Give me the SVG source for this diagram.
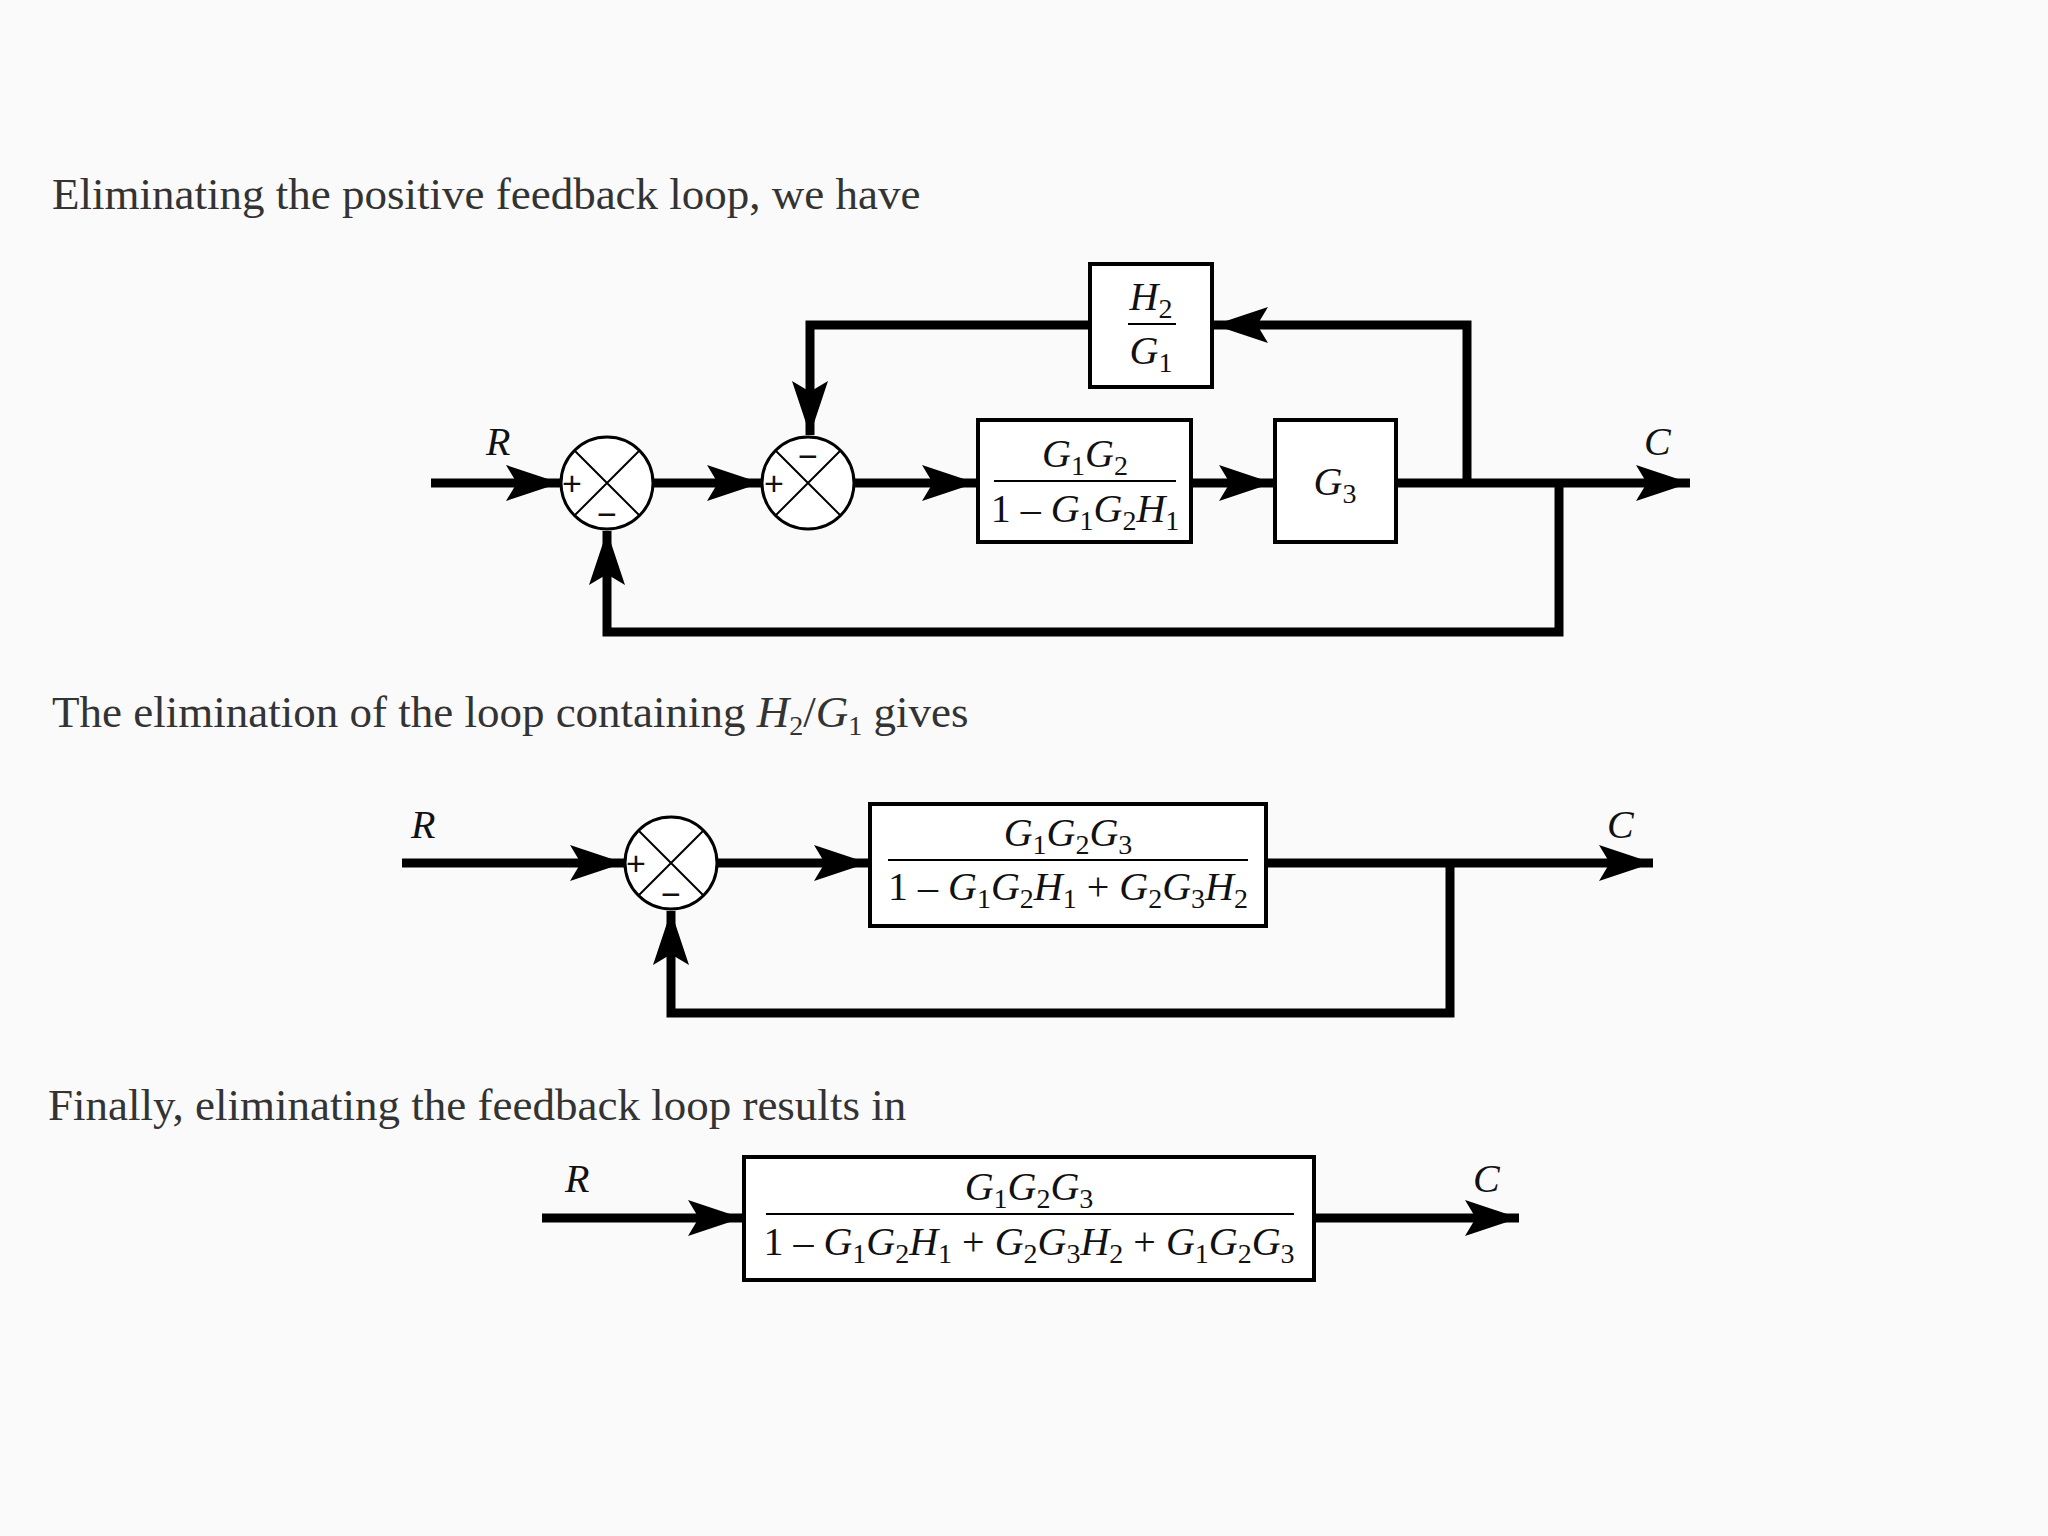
<svg xmlns="http://www.w3.org/2000/svg" width="2048" height="1536" viewBox="0 0 2048 1536">
<style>
.t{font-family:"Liberation Serif",serif;font-size:45px;fill:#333}
.m{font-family:"Liberation Serif",serif;font-style:italic;font-size:40px;fill:#111}
.s{font-size:28px;font-style:normal}
.n{font-style:normal}
.pm{font-family:"Liberation Sans",sans-serif;font-size:34px;fill:#111}
.w{stroke:#000;stroke-width:9;fill:none}
.b{fill:#fff;stroke:#000;stroke-width:4}
.c{fill:#fff;stroke:#000;stroke-width:3}
.x{stroke:#000;stroke-width:2}
.fl{stroke:#000;stroke-width:2}
</style>
<defs>
<marker id="a" markerWidth="6" markerHeight="4" refX="6" refY="2" orient="auto" markerUnits="strokeWidth"><path d="M0,0 L6,2 L0,4 L1.2,2 Z" fill="#000"/></marker>
</defs>
<rect width="2048" height="1536" fill="#fafafa"/>
<text class="t" x="52" y="209">Eliminating the positive feedback loop, we have</text>
<text class="t" x="52" y="727">The elimination of the loop containing <tspan font-style="italic">H</tspan><tspan class="s" dy="8">2</tspan><tspan dy="-8">/</tspan><tspan font-style="italic">G</tspan><tspan class="s" dy="8">1</tspan><tspan dy="-8"> gives</tspan></text>
<text class="t" x="48" y="1120">Finally, eliminating the feedback loop results in</text>
<g id="connectors">
<path class="w" d="M431,483 H560" marker-end="url(#a)"/>
<path class="w" d="M653,483 H761" marker-end="url(#a)"/>
<path class="w" d="M854,483 H976" marker-end="url(#a)"/>
<path class="w" d="M1191,483 H1273" marker-end="url(#a)"/>
<path class="w" d="M1396,483 H1690" marker-end="url(#a)"/>
<path class="w" d="M1467,483 V325 H1214" marker-end="url(#a)"/>
<path class="w" d="M1090,325 H810 V435" marker-end="url(#a)"/>
<path class="w" d="M1559,483 V632 H607 V531" marker-end="url(#a)"/>
<path class="w" d="M402,863 H624" marker-end="url(#a)"/>
<path class="w" d="M717,863 H868" marker-end="url(#a)"/>
<path class="w" d="M1266,863 H1653" marker-end="url(#a)"/>
<path class="w" d="M1450,863 V1013 H671 V911" marker-end="url(#a)"/>
<path class="w" d="M542,1218 H742" marker-end="url(#a)"/>
<path class="w" d="M1314,1218 H1519" marker-end="url(#a)"/>
</g>
<g id="labels">
<text class="m" x="486" y="455">R</text>
<text class="m" x="1644" y="455">C</text>
<text class="m" x="411" y="838">R</text>
<text class="m" x="1607" y="838">C</text>
<text class="m" x="565" y="1192">R</text>
<text class="m" x="1473" y="1192">C</text>
</g>
<g id="sum1">
<circle class="c" cx="607" cy="483" r="46"/>
<path class="x" d="M575,451 L639,515 M639,451 L575,515"/>
<text class="pm" x="562" y="495">+</text>
<text class="pm" x="597" y="526">−</text>
</g>
<g id="sum2">
<circle class="c" cx="808" cy="483" r="46"/>
<path class="x" d="M776,451 L840,515 M840,451 L776,515"/>
<text class="pm" x="764" y="495">+</text>
<text class="pm" x="798" y="468">−</text>
</g>
<g id="block1">
<rect class="b" x="978" y="420" width="213" height="122"/>
<text class="m" x="1085" y="467" text-anchor="middle">G<tspan class="s" dy="8">1</tspan><tspan dy="-8">G</tspan><tspan class="s" dy="8">2</tspan></text>
<line class="fl" x1="994" y1="481" x2="1176" y2="481"/>
<text class="m" x="1085" y="522" text-anchor="middle"><tspan class="n">1 – </tspan>G<tspan class="s" dy="8">1</tspan><tspan dy="-8">G</tspan><tspan class="s" dy="8">2</tspan><tspan dy="-8">H</tspan><tspan class="s" dy="8">1</tspan></text>
</g>
<g id="g3">
<rect class="b" x="1275" y="420" width="121" height="122"/>
<text class="m" x="1335" y="495" text-anchor="middle">G<tspan class="s" dy="8">3</tspan></text>
</g>
<g id="h2g1">
<rect class="b" x="1090" y="264" width="122" height="123"/>
<text class="m" x="1151" y="310" text-anchor="middle">H<tspan class="s" dy="8">2</tspan></text>
<line class="fl" x1="1128" y1="324" x2="1176" y2="324"/>
<text class="m" x="1151" y="364" text-anchor="middle">G<tspan class="s" dy="8">1</tspan></text>
</g>
<g id="sum3">
<circle class="c" cx="671" cy="863" r="46"/>
<path class="x" d="M639,831 L703,895 M703,831 L639,895"/>
<text class="pm" x="626" y="875">+</text>
<text class="pm" x="661" y="906">−</text>
</g>
<g id="block2">
<rect class="b" x="870" y="804" width="396" height="122"/>
<text class="m" x="1068" y="846" text-anchor="middle">G<tspan class="s" dy="8">1</tspan><tspan dy="-8">G</tspan><tspan class="s" dy="8">2</tspan><tspan dy="-8">G</tspan><tspan class="s" dy="8">3</tspan></text>
<line class="fl" x1="888" y1="860" x2="1248" y2="860"/>
<text class="m" x="1068" y="900" text-anchor="middle"><tspan class="n">1 – </tspan>G<tspan class="s" dy="8">1</tspan><tspan dy="-8">G</tspan><tspan class="s" dy="8">2</tspan><tspan dy="-8">H</tspan><tspan class="s" dy="8">1</tspan><tspan class="n" dy="-8"> + </tspan>G<tspan class="s" dy="8">2</tspan><tspan dy="-8">G</tspan><tspan class="s" dy="8">3</tspan><tspan dy="-8">H</tspan><tspan class="s" dy="8">2</tspan></text>
</g>
<g id="block3">
<rect class="b" x="744" y="1157" width="570" height="123"/>
<text class="m" x="1029" y="1200" text-anchor="middle">G<tspan class="s" dy="8">1</tspan><tspan dy="-8">G</tspan><tspan class="s" dy="8">2</tspan><tspan dy="-8">G</tspan><tspan class="s" dy="8">3</tspan></text>
<line class="fl" x1="766" y1="1214" x2="1294" y2="1214"/>
<text class="m" x="1029" y="1255" text-anchor="middle"><tspan class="n">1 – </tspan>G<tspan class="s" dy="8">1</tspan><tspan dy="-8">G</tspan><tspan class="s" dy="8">2</tspan><tspan dy="-8">H</tspan><tspan class="s" dy="8">1</tspan><tspan class="n" dy="-8"> + </tspan>G<tspan class="s" dy="8">2</tspan><tspan dy="-8">G</tspan><tspan class="s" dy="8">3</tspan><tspan dy="-8">H</tspan><tspan class="s" dy="8">2</tspan><tspan class="n" dy="-8"> + </tspan>G<tspan class="s" dy="8">1</tspan><tspan dy="-8">G</tspan><tspan class="s" dy="8">2</tspan><tspan dy="-8">G</tspan><tspan class="s" dy="8">3</tspan></text>
</g>
</svg>
